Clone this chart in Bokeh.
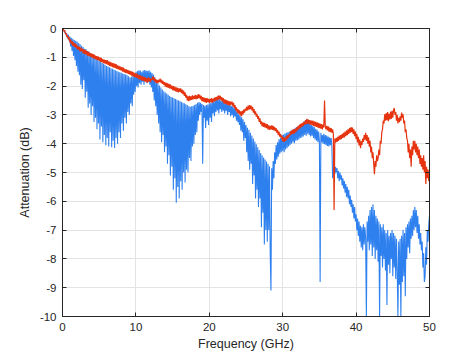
from bokeh.plotting import figure
from bokeh.models import Range1d, FixedTicker, LinearAxis, ColumnDataSource
from bokeh.embed import file_html
from bokeh.resources import INLINE

blue_db = [
    0.0, -0.04, -0.06, -0.14, -0.12, -0.24, -0.18, -0.34, -0.22, -0.42,
    -0.28, -0.62, -0.32, -0.78, -0.36, -0.95, -0.4, -1.1, -0.43, -1.3,
    -0.45, -1.5, -0.5, -1.62, -0.55, -1.95, -0.6, -2.1, -0.64, -1.8,
    -0.7, -2.4, -0.72, -2.2, -0.78, -2.75, -0.8, -2.6, -0.86, -3.0,
    -0.9, -2.7, -0.95, -3.25, -1.0, -3.1, -1.04, -3.5, -1.08, -3.3,
    -1.12, -3.85, -1.15, -3.4, -1.2, -3.95, -1.22, -3.7, -1.26, -4.05,
    -1.3, -3.8, -1.32, -4.1, -1.35, -3.6, -1.38, -4.12, -1.4, -3.9,
    -1.42, -4.15, -1.45, -3.8, -1.48, -4.0, -1.5, -3.6, -1.52, -3.8,
    -1.54, -3.3, -1.56, -3.55, -1.58, -3.1, -1.6, -3.3, -1.62, -2.9,
    -1.66, -3.0, -1.7, -2.6, -1.68, -2.7, -1.64, -2.3, -1.58, -2.2,
    -1.52, -2.0, -1.48, -2.05, -1.45, -1.9, -1.46, -1.95, -1.5, -1.85,
    -1.46, -1.95, -1.44, -1.8, -1.46, -1.9, -1.48, -1.85, -1.45, -1.95,
    -1.5, -2.05, -1.55, -2.2, -1.6, -2.5, -1.7, -2.7, -1.8, -3.0,
    -1.9, -3.3, -1.98, -3.6, -2.05, -3.95, -2.12, -3.7, -2.18, -4.3,
    -2.22, -4.1, -2.26, -4.7, -2.3, -4.4, -2.34, -5.1, -2.38, -4.8,
    -2.4, -5.6, -2.42, -5.2, -2.45, -6.05, -2.47, -5.5, -2.5, -5.9,
    -2.52, -5.3, -2.55, -5.6, -2.58, -5.0, -2.6, -5.35, -2.63, -4.9,
    -2.66, -5.0, -2.7, -4.5, -2.72, -4.6, -2.7, -4.1, -2.68, -4.0,
    -2.66, -3.7, -2.62, -3.6, -2.58, -3.2, -2.55, -3.0, -2.58, -2.9,
    -2.62, -4.7, -2.66, -3.1, -2.68, -3.45, -2.66, -3.2, -2.64, -3.35,
    -2.6, -3.1, -2.58, -3.25, -2.55, -2.95, -2.52, -3.05, -2.48, -2.9,
    -2.44, -2.85, -2.42, -2.95, -2.46, -2.8, -2.5, -2.9, -2.52, -2.85,
    -2.55, -2.95, -2.58, -2.85, -2.6, -3.0, -2.62, -2.9, -2.65, -3.05,
    -2.68, -3.0, -2.7, -3.1, -2.75, -3.05, -2.82, -3.2, -2.9, -3.25,
    -2.98, -3.35, -3.02, -3.55, -3.08, -3.6, -3.15, -3.9, -3.25, -3.8,
    -3.35, -4.3, -3.45, -4.6, -3.52, -4.9, -3.62, -4.7, -3.72, -5.4,
    -3.82, -5.1, -3.92, -5.9, -4.02, -5.6, -4.12, -6.2, -4.22, -5.9,
    -4.32, -6.9, -4.4, -6.4, -4.48, -7.5, -4.55, -7.0, -4.62, -7.4,
    -4.7, -7.0, -4.78, -7.8, -9.1, -4.85, -5.6, -4.6, -5.2, -4.3,
    -4.7, -4.05, -4.55, -3.95, -4.45, -3.85, -4.35, -3.8, -4.3, -3.7,
    -4.25, -3.68, -4.3, -3.65, -4.2, -3.62, -4.15, -3.6, -4.1, -3.58,
    -4.05, -3.55, -4.0, -3.52, -3.95, -3.5, -3.98, -3.45, -3.9, -3.42,
    -3.88, -3.4, -3.85, -3.36, -3.8, -3.32, -3.78, -3.28, -3.75, -3.22,
    -3.7, -3.2, -3.72, -3.15, -3.65, -3.2, -3.7, -3.28, -3.75, -3.35,
    -3.72, -3.38, -3.8, -3.42, -3.85, -3.48, -3.9, -3.52, -3.95, -3.58,
    -3.92, -8.8, -3.62, -3.95, -3.7, -4.0, -3.66, -4.02, -3.7, -4.05,
    -3.72, -4.08, -3.75, -4.1, -3.78, -4.05, -3.8, -4.1, -5.2, -4.9,
    -4.75, -5.05, -4.8, -5.0, -4.85, -5.2, -4.95, -5.3, -5.0, -5.25,
    -5.1, -5.45, -5.2, -5.55, -5.3, -5.7, -5.4, -5.85, -5.5, -5.9,
    -5.6, -6.1, -5.8, -6.2, -5.95, -6.4, -6.1, -6.6, -6.2, -6.7,
    -6.45, -7.0, -6.6, -7.2, -6.7, -7.4, -6.85, -7.6, -6.9, -7.7,
    -6.8, -7.5, -6.9, -7.3, -10.0, -6.7, -7.4, -6.5, -7.7, -6.3,
    -7.5, -6.2, -7.9, -6.1, -7.6, -6.3, -8.0, -6.5, -7.7, -6.6,
    -8.1, -6.7, -10.0, -6.8, -7.9, -6.9, -8.3, -6.8, -8.0, -7.0,
    -8.4, -7.1, -9.6, -7.0, -8.2, -7.2, -8.5, -7.1, -8.0, -7.0,
    -8.6, -7.1, -8.3, -7.2, -8.7, -7.3, -8.4, -10.0, -7.4, -8.9,
    -7.3, -10.0, -7.2, -8.8, -7.0, -8.6, -7.1, -9.3, -6.9, -8.0,
    -6.8, -7.6, -6.7, -7.8, -6.6, -7.3, -6.5, -7.2, -6.3, -7.0,
    -6.2, -6.9, -6.3, -7.1, -6.5, -7.3, -6.8, -7.5, -7.1, -7.7,
    -7.4, -8.3, -7.8, -8.8, -8.6, -7.6, -8.2, -7.0, -7.4, -6.8,
    -6.5,
]

red_db = [
    0.0, -0.02, -0.1, -0.06, -0.2, -0.16, -0.3, -0.24, -0.38, -0.3,
    -0.48, -0.38, -0.54, -0.44, -0.6, -0.48, -0.64, -0.52, -0.66, -0.56,
    -0.72, -0.6, -0.74, -0.64, -0.8, -0.66, -0.78, -0.7, -0.86, -0.72,
    -0.88, -0.74, -0.9, -0.78, -0.94, -0.8, -0.96, -0.84, -0.98, -0.86,
    -1.0, -0.88, -1.04, -0.9, -1.06, -0.94, -1.08, -0.96, -1.1, -0.98,
    -1.12, -1.0, -1.16, -1.02, -1.18, -1.06, -1.2, -1.08, -1.22, -1.1,
    -1.24, -1.1, -1.26, -1.14, -1.3, -1.16, -1.32, -1.18, -1.34, -1.2,
    -1.36, -1.22, -1.38, -1.24, -1.4, -1.28, -1.42, -1.3, -1.44, -1.32,
    -1.46, -1.34, -1.5, -1.36, -1.52, -1.4, -1.54, -1.42, -1.56, -1.44,
    -1.58, -1.46, -1.6, -1.48, -1.64, -1.5, -1.66, -1.52, -1.68, -1.56,
    -1.7, -1.56, -1.72, -1.6, -1.76, -1.62, -1.78, -1.64, -1.8, -1.66,
    -1.82, -1.68, -1.84, -1.7, -1.86, -1.72, -1.88, -1.7, -1.84, -1.72,
    -1.86, -1.74, -1.78, -1.66, -1.8, -1.7, -1.86, -1.76, -1.9, -1.78,
    -1.9, -1.78, -1.86, -1.74, -1.88, -1.78, -1.92, -1.82, -1.96, -1.86,
    -2.02, -1.88, -2.04, -1.9, -2.06, -1.92, -2.08, -1.94, -2.1, -1.98,
    -2.14, -2.0, -2.16, -2.02, -2.18, -2.04, -2.2, -2.06, -2.22, -2.08,
    -2.2, -2.08, -2.24, -2.12, -2.28, -2.16, -2.34, -2.22, -2.4, -2.3,
    -2.5, -2.36, -2.52, -2.34, -2.5, -2.36, -2.48, -2.32, -2.46, -2.34,
    -2.44, -2.3, -2.46, -2.32, -2.44, -2.28, -2.42, -2.3, -2.46, -2.34,
    -2.52, -2.38, -2.54, -2.4, -2.56, -2.42, -2.58, -2.42, -2.56, -2.44,
    -2.58, -2.44, -2.56, -2.42, -2.58, -2.44, -2.54, -2.4, -2.52, -2.38,
    -2.5, -2.36, -2.48, -2.32, -2.46, -2.34, -2.5, -2.38, -2.54, -2.42,
    -2.6, -2.46, -2.62, -2.48, -2.64, -2.5, -2.66, -2.52, -2.68, -2.54,
    -2.64, -2.54, -2.7, -2.58, -2.76, -2.66, -2.84, -2.74, -2.92, -2.8,
    -2.96, -2.84, -3.02, -2.88, -3.04, -2.86, -2.98, -2.82, -2.92, -2.78,
    -2.86, -2.72, -2.84, -2.68, -2.82, -2.66, -2.8, -2.68, -2.84, -2.72,
    -2.92, -2.8, -2.98, -2.88, -3.06, -2.96, -3.14, -3.04, -3.24, -3.12,
    -3.32, -3.22, -3.4, -3.26, -3.42, -3.28, -3.44, -3.3, -3.46, -3.32,
    -3.5, -3.36, -3.52, -3.38, -3.5, -3.36, -3.52, -3.38, -3.54, -3.42,
    -3.56, -3.46, -3.62, -3.52, -3.7, -3.58, -3.76, -3.66, -3.82, -3.72,
    -3.92, -3.78, -3.94, -3.8, -3.9, -3.74, -3.84, -3.7, -3.8, -3.66,
    -3.72, -3.56, -3.68, -3.52, -3.66, -3.5, -3.64, -3.48, -3.6, -3.44,
    -3.54, -3.38, -3.5, -3.34, -3.46, -3.3, -3.42, -3.28, -3.38, -3.24,
    -3.34, -3.18, -3.32, -3.14, -3.3, -3.16, -3.32, -3.18, -3.34, -3.2,
    -3.36, -3.2, -3.38, -3.22, -3.4, -3.24, -3.42, -3.26, -3.44, -3.28,
    -3.46, -3.3, -3.48, -3.32, -3.5, -3.34, -3.44, -2.5, -3.4, -3.5,
    -3.38, -3.54, -3.4, -3.58, -3.44, -3.6, -3.46, -3.62, -3.5, -3.66,
    -6.3, -3.82, -3.96, -3.8, -3.94, -3.76, -3.9, -3.72, -3.86, -3.7,
    -3.84, -3.66, -3.8, -3.62, -3.78, -3.58, -3.74, -3.54, -3.7, -3.5,
    -3.66, -3.46, -3.62, -3.42, -3.6, -3.44, -3.66, -3.5, -3.74, -3.58,
    -3.84, -3.66, -3.96, -3.76, -4.06, -3.86, -4.16, -3.92, -4.04, -3.82,
    -3.94, -3.7, -3.86, -3.62, -3.9, -3.7, -4.0, -3.78, -4.1, -3.9,
    -4.3, -4.1, -4.5, -4.3, -4.7, -5.06, -4.6, -4.8, -4.4, -4.6,
    -4.5, -4.2, -4.4, -3.9, -4.0, -3.6, -3.5, -3.2, -3.3, -2.98,
    -3.2, -2.94, -3.18, -2.9, -3.22, -2.96, -3.16, -2.88, -3.14, -2.86,
    -3.1, -2.84, -2.76, -3.0, -2.9, -3.2, -3.0, -3.3, -3.1, -3.25,
    -3.05, -3.2, -2.92, -3.1, -2.98, -3.3, -3.2, -3.6, -3.5, -3.8,
    -3.9, -4.3, -4.0, -4.5, -4.2, -4.8, -4.1, -4.4, -3.9, -4.2,
    -3.9, -4.3, -4.0, -4.4, -4.1, -4.5, -4.2, -4.7, -4.4, -4.8,
    -4.5, -4.9, -4.4, -5.0, -4.6, -5.4, -4.8, -5.2, -4.9, -5.3,
    -5.1,
]

freq_step_ghz = 0.1
freq_ghz = [round(i * freq_step_ghz, 1) for i in range(len(blue_db))]

x_ticks = [0, 10, 20, 30, 40, 50]
x_tick_labels = ["0", "10", "20", "30", "40", "50"]
y_ticks = [0, -1, -2, -3, -4, -5, -6, -7, -8, -9, -10]
y_tick_labels = ["0", "-1", "-2", "-3", "-4", "-5", "-6", "-7", "-8", "-9", "-10"]

FONT = "Liberation Sans"
AX_COLOR = "#262626"

p = figure(width=474, height=355, output_backend="svg", toolbar_location=None,
           x_range=Range1d(0, 50), y_range=Range1d(-10, 0),
           min_border_left=62, min_border_right=45, min_border_top=28, min_border_bottom=39)
p.background_fill_color = "white"
p.border_fill_color = "white"
p.outline_line_color = AX_COLOR
p.outline_line_width = 1

src_b = ColumnDataSource(dict(f=freq_ghz, a=blue_db))
src_r = ColumnDataSource(dict(f=freq_ghz, a=red_db))
p.line("f", "a", source=src_b, line_color="#2F80EF", line_width=1.1)
p.line("f", "a", source=src_r, line_color="#E5340F", line_width=1.2)

for ax, ticks, labels in ((p.xaxis[0], x_ticks, x_tick_labels), (p.yaxis[0], y_ticks, y_tick_labels)):
    ax.ticker = FixedTicker(ticks=ticks)
    ax.major_label_overrides = {t: l for t, l in zip(ticks, labels)}
    ax.minor_tick_line_color = None
    ax.major_tick_in = 4
    ax.major_tick_out = 0
    ax.axis_line_color = AX_COLOR
    ax.major_tick_line_color = AX_COLOR
    ax.major_label_text_font = FONT
    ax.major_label_text_font_size = "11.5px"
    ax.major_label_text_color = AX_COLOR
    ax.axis_label_text_font = FONT
    ax.axis_label_text_font_size = "12.5px"
    ax.axis_label_text_font_style = "normal"
    ax.axis_label_text_color = AX_COLOR

p.xaxis[0].axis_label = "Frequency (GHz)"
p.yaxis[0].axis_label = "Attenuation (dB)"
p.xaxis[0].major_label_standoff = 6
p.xaxis[0].axis_label_standoff = 3
p.yaxis[0].major_label_standoff = 6
p.yaxis[0].axis_label_standoff = 5

for loc, ticks in (("above", x_ticks), ("right", y_ticks)):
    ax = LinearAxis(ticker=FixedTicker(ticks=ticks))
    ax.major_label_text_font_size = "0px"
    ax.major_label_text_color = None
    ax.major_label_standoff = 0
    ax.minor_tick_line_color = None
    ax.major_tick_in = 4
    ax.major_tick_out = 0
    ax.axis_line_color = AX_COLOR
    ax.major_tick_line_color = AX_COLOR
    p.add_layout(ax, loc)

p.xgrid.ticker = FixedTicker(ticks=x_ticks)
p.ygrid.ticker = FixedTicker(ticks=y_ticks)
p.grid.grid_line_color = "#E3E3E3"
p.grid.grid_line_width = 1

open("out.html", "w").write(file_html(p, INLINE))
